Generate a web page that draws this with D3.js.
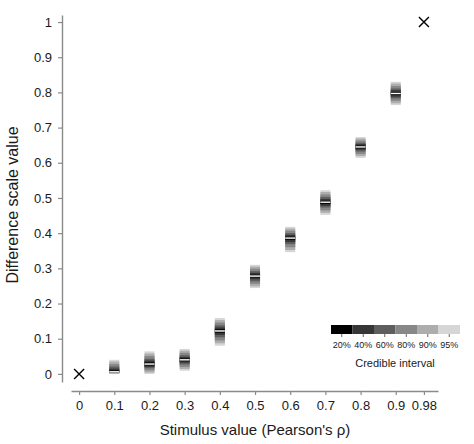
<!DOCTYPE html>
<html>
<head>
<meta charset="utf-8">
<script src="https://cdnjs.cloudflare.com/ajax/libs/d3/7.8.5/d3.min.js"></script>
<style>
  body { margin: 0; background: #fff; }
  svg text { font-family: "Liberation Sans", Arial, sans-serif; fill: #1a1a1a; }
</style>
</head>
<body>
<div id="chart"></div>
<script>
// stimulus values and estimated scale values
var stimulus = [0.1, 0.2, 0.3, 0.4, 0.5, 0.6, 0.7, 0.8, 0.9];
var median   = [0.006, 0.028, 0.040, 0.122, 0.278, 0.386, 0.488, 0.645, 0.797];

// credible interval bounds, one pair per level
var ci20Lo = [0.005, 0.024, 0.036, 0.117, 0.274, 0.381, 0.483, 0.641, 0.793];
var ci20Hi = [0.010, 0.033, 0.044, 0.127, 0.282, 0.390, 0.492, 0.649, 0.801];
var ci40Lo = [0.004, 0.020, 0.032, 0.111, 0.269, 0.375, 0.478, 0.637, 0.788];
var ci40Hi = [0.015, 0.038, 0.048, 0.132, 0.287, 0.395, 0.497, 0.653, 0.806];
var ci60Lo = [0.003, 0.016, 0.027, 0.104, 0.263, 0.369, 0.473, 0.632, 0.783];
var ci60Hi = [0.021, 0.043, 0.053, 0.138, 0.292, 0.400, 0.503, 0.657, 0.811];
var ci80Lo = [0.002, 0.010, 0.020, 0.095, 0.256, 0.360, 0.465, 0.625, 0.776];
var ci80Hi = [0.028, 0.051, 0.060, 0.146, 0.299, 0.407, 0.510, 0.663, 0.818];
var ci90Lo = [0.001, 0.004, 0.014, 0.087, 0.249, 0.352, 0.458, 0.619, 0.769];
var ci90Hi = [0.035, 0.058, 0.066, 0.153, 0.305, 0.413, 0.517, 0.669, 0.825];
var ci95Lo = [0.000, 0.000, 0.009, 0.080, 0.244, 0.346, 0.452, 0.614, 0.764];
var ci95Hi = [0.040, 0.064, 0.071, 0.159, 0.310, 0.418, 0.522, 0.673, 0.830];

// fixed end points (anchors)
var anchorX = [0, 0.98];
var anchorY = [0, 1];

var xTicks = [0, 0.1, 0.2, 0.3, 0.4, 0.5, 0.6, 0.7, 0.8, 0.9, 0.98];
var yTicks = [0, 0.1, 0.2, 0.3, 0.4, 0.5, 0.6, 0.7, 0.8, 0.9, 1];
var levelLabels = ["20%", "40%", "60%", "80%", "90%", "95%"];
var levelColors = ["#000000", "#363636", "#5e5e5e", "#878787", "#adadad", "#d6d6d6"];

var width = 474, height = 444;

var svg = d3.select("#chart").append("svg")
    .attr("width", width)
    .attr("height", height);

var x = d3.scaleLinear().domain([-0.023, 1.02]).range([71, 438]);
var y = d3.scaleLinear().domain([-0.023, 1.02]).range([382, 15]);

var fmt = function (d) { return String(d); };

// axes, detached from the plot area
var xAxis = svg.append("g")
    .attr("transform", "translate(0,391)")
    .call(d3.axisBottom(x).tickValues(xTicks).tickFormat(fmt).tickSize(4).tickSizeOuter(0).tickPadding(6));
var yAxis = svg.append("g")
    .attr("transform", "translate(62,0)")
    .call(d3.axisLeft(y).tickValues(yTicks).tickFormat(fmt).tickSize(4).tickSizeOuter(0).tickPadding(6));

[xAxis, yAxis].forEach(function (g) {
    g.select(".domain").attr("stroke", "#8a8a8a").attr("stroke-width", 1.4);
    g.selectAll(".tick line").attr("stroke", "#8a8a8a").attr("stroke-width", 1.2);
    g.selectAll(".tick text").attr("font-size", 13).attr("fill", "#1a1a1a")
        .attr("font-family", "Liberation Sans, Arial, sans-serif");
});

svg.append("text")
    .attr("x", 255).attr("y", 435)
    .attr("text-anchor", "middle")
    .attr("font-size", 15)
    .text("Stimulus value (Pearson's \u03c1)");

svg.append("text")
    .attr("transform", "translate(18,205) rotate(-90)")
    .attr("text-anchor", "middle")
    .attr("font-size", 16)
    .text("Difference scale value");

// credible interval boxes, widest first
var levels = [
    [ci95Lo, ci95Hi, 5], [ci90Lo, ci90Hi, 4], [ci80Lo, ci80Hi, 3],
    [ci60Lo, ci60Hi, 2], [ci40Lo, ci40Hi, 1], [ci20Lo, ci20Hi, 0]
];
var boxW = 10;
var marks = svg.append("g");
levels.forEach(function (lv) {
    marks.selectAll(null)
        .data(stimulus)
        .enter().append("rect")
        .attr("x", function (d) { return x(d) - boxW / 2; })
        .attr("width", boxW)
        .attr("y", function (d, i) { return y(lv[1][i]); })
        .attr("height", function (d, i) { return y(lv[0][i]) - y(lv[1][i]); })
        .attr("fill", levelColors[lv[2]]);
});
marks.selectAll(".med")
    .data(stimulus)
    .enter().append("line")
    .attr("class", "med")
    .attr("x1", function (d) { return x(d) - boxW / 2; })
    .attr("x2", function (d) { return x(d) + boxW / 2; })
    .attr("y1", function (d, i) { return y(median[i]); })
    .attr("y2", function (d, i) { return y(median[i]); })
    .attr("stroke", "#fff")
    .attr("stroke-width", 1.4);

// anchor crosses
var cs = 5;
anchorX.forEach(function (ax, i) {
    var cx = x(ax), cy = y(anchorY[i]);
    svg.append("path")
        .attr("d", "M" + (cx - cs) + "," + (cy - cs) + "L" + (cx + cs) + "," + (cy + cs) +
                   "M" + (cx - cs) + "," + (cy + cs) + "L" + (cx + cs) + "," + (cy - cs))
        .attr("stroke", "#000")
        .attr("stroke-width", 1.4)
        .attr("fill", "none");
});

// legend
var lg = svg.append("g").attr("transform", "translate(331,325)");
var lx = d3.scaleBand().domain(levelLabels).range([0, 129]).padding(0);
lg.selectAll("rect")
    .data(levelLabels)
    .enter().append("rect")
    .attr("x", function (d) { return lx(d); })
    .attr("y", 0)
    .attr("width", lx.bandwidth())
    .attr("height", 9)
    .attr("fill", function (d, i) { return levelColors[i]; });
lg.selectAll("line")
    .data(levelLabels)
    .enter().append("line")
    .attr("x1", function (d) { return lx(d) + lx.bandwidth() / 2; })
    .attr("x2", function (d) { return lx(d) + lx.bandwidth() / 2; })
    .attr("y1", 9).attr("y2", 12)
    .attr("stroke", "#666");
lg.selectAll("text.lab")
    .data(levelLabels)
    .enter().append("text")
    .attr("class", "lab")
    .attr("x", function (d) { return lx(d) + lx.bandwidth() / 2; })
    .attr("y", 23)
    .attr("text-anchor", "middle")
    .attr("font-size", 9)
    .text(function (d) { return d; });
lg.append("text")
    .attr("x", 64).attr("y", 42)
    .attr("text-anchor", "middle")
    .attr("font-size", 11)
    .text("Credible interval");
</script>
</body>
</html>
